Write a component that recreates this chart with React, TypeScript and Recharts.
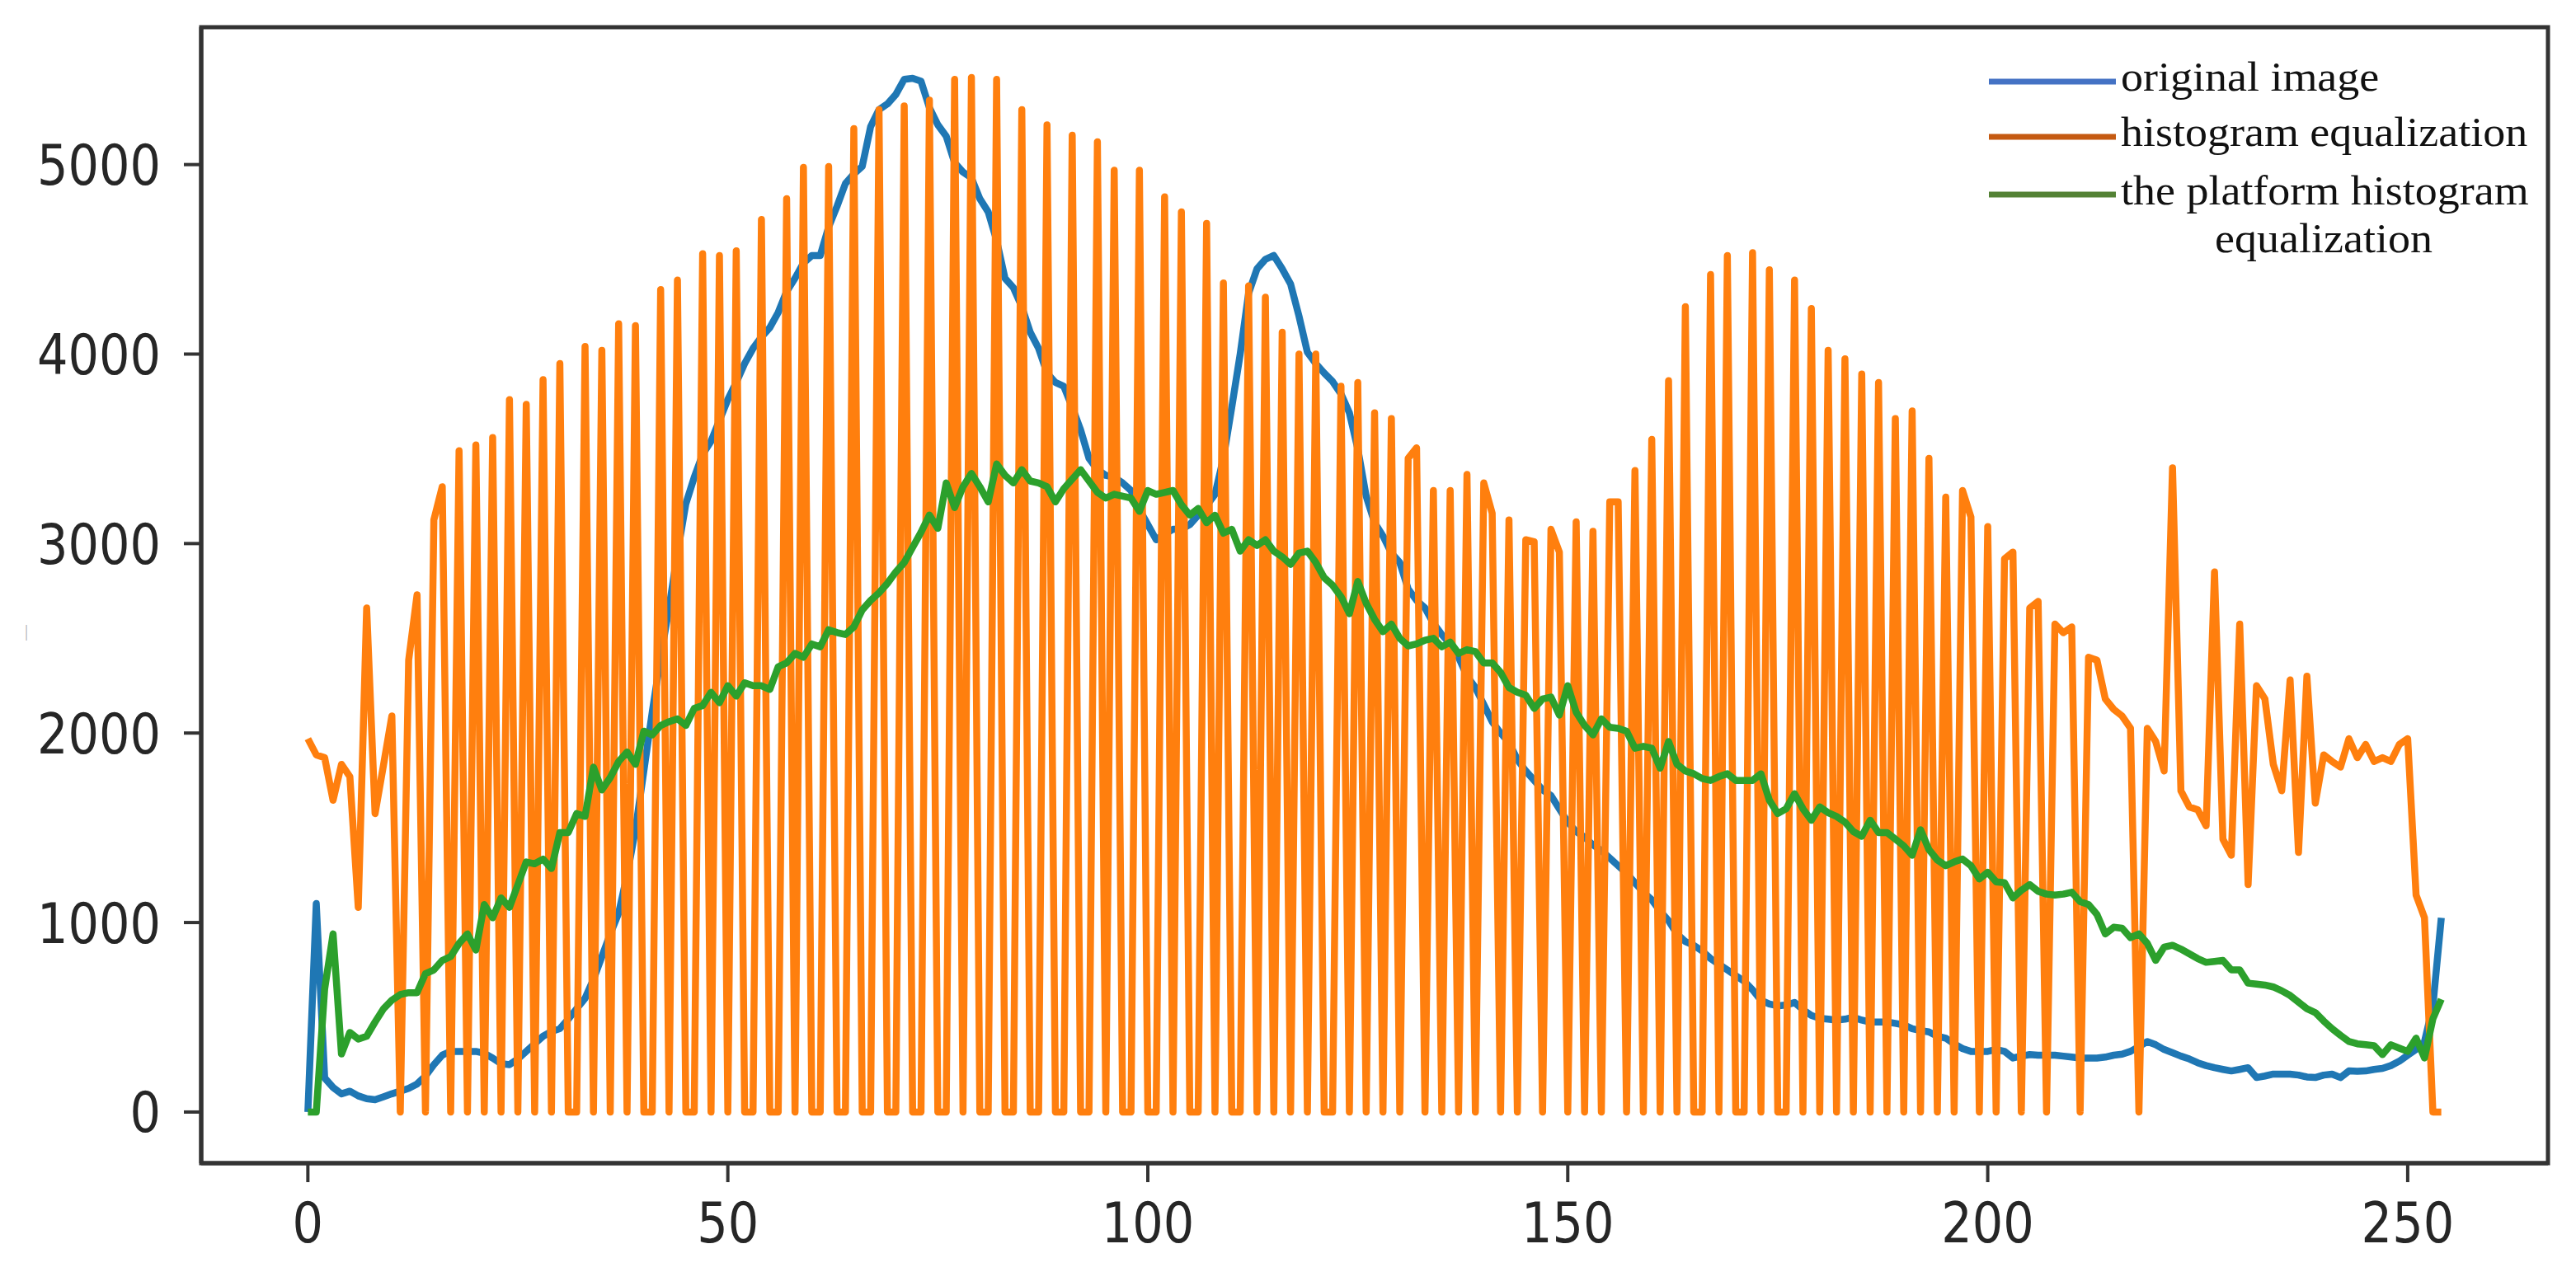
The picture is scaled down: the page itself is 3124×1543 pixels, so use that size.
import { LineChart, Line, XAxis, YAxis, ReferenceArea } from "recharts";

// grey levels 0..254
const levels = Array.from({ length: 255 }, (_, i) => i);

const originalImage = [
  0, 1100, 180, 130, 96, 110, 85, 70, 65, 80,
  96, 110, 125, 148, 190, 250, 300, 320, 320, 320,
  320, 310, 285, 255, 250, 280, 320, 360, 400, 425,
  440, 490, 545, 600, 700, 820, 940, 1050, 1250, 1490,
  1800, 2110, 2400, 2660, 2950, 3210, 3350, 3470, 3540, 3650,
  3760, 3850, 3950, 4030, 4090, 4140, 4220, 4330, 4400, 4480,
  4520, 4520, 4670, 4780, 4900, 4950, 4990, 5200, 5290, 5320,
  5370, 5450, 5455, 5440, 5300, 5210, 5150, 5010, 4960, 4930,
  4820, 4750, 4600, 4400, 4350, 4250, 4115, 4030, 3900, 3850,
  3830, 3720, 3600, 3450, 3390, 3360, 3350, 3320, 3280, 3180,
  3100, 3020, 3050, 3075, 3075, 3100, 3150, 3200, 3260, 3450,
  3720, 4000, 4320, 4450, 4500, 4520, 4450, 4370, 4200, 4010,
  3950, 3900, 3855, 3790, 3690, 3500, 3250, 3110, 3040, 2950,
  2900, 2760, 2700, 2660, 2580, 2520, 2470, 2400, 2300, 2240,
  2150, 2060, 2000, 1950, 1860, 1800, 1750, 1700, 1670, 1600,
  1530, 1480, 1450, 1410, 1380, 1340, 1300, 1260, 1210, 1160,
  1120, 1060, 1010, 940, 900, 880, 850, 810, 780, 750,
  720, 690, 645, 590, 570, 560, 565, 578, 540, 510,
  495, 490, 485, 490, 500, 485, 475, 475, 475, 468,
  460, 440, 430, 423, 400, 390, 360, 335, 320, 320,
  320, 330, 320, 285, 295, 303, 300, 300, 300, 295,
  290, 285, 285, 285, 290, 300, 305, 320, 345, 372,
  355, 330, 313, 295, 280, 260, 245, 234, 225, 217,
  225, 234, 182, 190, 200, 200, 200, 195, 185, 182,
  195, 200, 182, 217, 215, 217, 225, 230, 245, 268,
  300, 330, 372, 560, 1025,
];

const histogramEq = [
  1970, 1885, 1870, 1645, 1835, 1770, 1080, 2660, 1575, 1830,
  2090, 0, 2385, 2730, 0, 3125, 3300, 0, 3490, 0,
  3520, 0, 3560, 0, 3760, 0, 3735, 0, 3865, 0,
  3950, 0, 0, 4040, 0, 4020, 0, 4160, 0, 4150,
  0, 0, 4340, 0, 4390, 0, 0, 4530, 0, 4520,
  0, 4545, 0, 0, 4710, 0, 0, 4820, 0, 4985,
  0, 0, 4990, 0, 0, 5190, 0, 0, 5290, 0,
  0, 5310, 0, 0, 5340, 0, 0, 5450, 0, 5460,
  0, 0, 5450, 0, 0, 5290, 0, 0, 5210, 0,
  0, 5155, 0, 0, 5120, 0, 4970, 0, 0, 4970,
  0, 0, 4830, 0, 4750, 0, 0, 4690, 0, 4375,
  0, 0, 4360, 0, 4300, 0, 4115, 0, 4000, 0,
  4000, 0, 0, 3830, 0, 3850, 0, 3690, 0, 3660,
  0, 3450, 3505, 0, 3280, 0, 3280, 0, 3365, 0,
  3320, 3160, 0, 3125, 0, 3020, 3010, 0, 3075, 2955,
  0, 3115, 0, 3065, 0, 3220, 3220, 0, 3385, 0,
  3550, 0, 3860, 0, 4250, 0, 0, 4420, 0, 4520,
  0, 0, 4535, 0, 4445, 0, 0, 4390, 0, 4240,
  0, 4020, 0, 3975, 0, 3895, 0, 3850, 0, 3660,
  0, 3700, 0, 3450, 0, 3245, 0, 3280, 3140, 0,
  3090, 0, 2920, 2955, 0, 2660, 2695, 0, 2575, 2530,
  2560, 0, 2400, 2385, 2180, 2125, 2090, 2025, 0, 2025,
  1955, 1800, 3400, 1695, 1610, 1595, 1510, 2850, 1440, 1355,
  2575, 1200, 2250, 2180, 1835, 1695, 2280, 1370, 2300, 1630,
  1885, 1850, 1820, 1970, 1870, 1940, 1850, 1870, 1850, 1940,
  1970, 1145, 1025, 0, 0,
];

const platformEq = [
  0, 0, 650, 940, 306, 420, 385, 400, 475, 545,
  590, 620, 630, 630, 730, 750, 800, 820, 890, 940,
  855, 1095, 1025, 1130, 1080, 1200, 1320, 1310, 1335, 1285,
  1475, 1475, 1575, 1560, 1820, 1700, 1765, 1850, 1900, 1835,
  2010, 1990, 2040, 2060, 2075, 2040, 2130, 2145, 2215, 2160,
  2250, 2195, 2265, 2250, 2250, 2230, 2350, 2370, 2420, 2400,
  2470, 2455, 2545, 2530, 2520, 2560, 2650, 2700, 2740, 2790,
  2850, 2900, 2980, 3060, 3150, 3080, 3320, 3190, 3300, 3370,
  3300, 3220, 3420, 3360, 3320, 3390, 3330, 3320, 3300, 3220,
  3290, 3340, 3390, 3330, 3270, 3240, 3260, 3250, 3240, 3170,
  3280, 3260, 3270, 3280, 3205, 3150, 3185, 3110, 3150, 3055,
  3075, 2960, 3020, 2990, 3020, 2960, 2930, 2890, 2950, 2960,
  2900, 2820, 2780, 2720, 2630, 2800, 2685, 2600, 2535, 2575,
  2500, 2460, 2470, 2490, 2500, 2455, 2480, 2420, 2440, 2430,
  2370, 2370, 2320, 2240, 2215, 2200, 2130, 2180, 2190, 2095,
  2250, 2110, 2040, 1990, 2075, 2030, 2025, 2010, 1920, 1930,
  1920, 1815, 1955, 1835, 1800, 1785, 1760, 1750, 1770, 1785,
  1750, 1750, 1750, 1785, 1645, 1575, 1600, 1680, 1600, 1540,
  1610, 1580, 1560, 1530, 1480, 1455, 1540, 1475, 1475, 1440,
  1405, 1355, 1490, 1385, 1330, 1300, 1320, 1335, 1300, 1230,
  1265, 1215, 1210, 1130, 1170, 1200, 1165, 1150, 1145, 1150,
  1160, 1110, 1095, 1043, 940, 975, 970, 920, 940, 890,
  800, 870, 880, 860, 835, 810, 790, 795, 800, 750,
  750, 680, 675, 670, 660, 640, 615, 580, 545, 525,
  480, 440, 405, 372, 360, 355, 350, 303, 355, 337,
  320, 390, 285, 492, 595,
];

const xTicks = [0, 50, 100, 150, 200, 250];
const yTicks = [0, 1000, 2000, 3000, 4000, 5000];
const xDomain = [-12.7, 266.7];
const yDomain = [-270, 5725];

const legendNames = ["original image", "histogram equalization", "the platform histogram"];
const legendColors = ["#4472c4", "#c55a11", "#548235"];

const data = levels.map((x, i) => ({
  x,
  original: originalImage[i],
  he: histogramEq[i],
  platform: platformEq[i],
}));

const axisColor = "#333";
const tickFont = "DejaVu Sans, sans-serif";
const serif = "Liberation Serif, serif";

const YTick = ({ x, y, payload }: any) => (
  <g transform={`translate(${x},${y}) scale(1,1.15)`}>
    <text x={0} y={0} dy="0.36em" textAnchor="end" fill="#262626" fontSize={59} fontFamily={tickFont}>
      {payload.value}
    </text>
  </g>
);

const XTick = ({ x, y, payload }: any) => (
  <g transform={`translate(${x},${y}) scale(1,1.15)`}>
    <text x={0} y={0} dy="0.73em" textAnchor="middle" fill="#262626" fontSize={59} fontFamily={tickFont}>
      {payload.value}
    </text>
  </g>
);

function LegendBox() {
  const lineY = [99, 166, 236];
  const baseY = [110, 177, 248];
  return (
    <svg width={3124} height={1543} style={{ position: "absolute", left: 0, top: 0, pointerEvents: "none" }}>
      {legendNames.map((name, i) => (
        <g key={name}>
          <line x1={2412} x2={2566} y1={lineY[i]} y2={lineY[i]} stroke={legendColors[i]} strokeWidth={7} />
          <g transform={`translate(2572,${baseY[i]}) scale(1.08,1)`}>
            <text x={0} y={0} fontSize={50} fontFamily={serif} fill="#111">
              {name}
            </text>
          </g>
        </g>
      ))}
      <g transform="translate(2818,306) scale(1.08,1)">
        <text x={0} y={0} textAnchor="middle" fontSize={50} fontFamily={serif} fill="#111">
          equalization
        </text>
      </g>
    </svg>
  );
}

export default function App() {
  return (
    <div style={{ position: "absolute", left: 0, top: 0, width: 3124, height: 1543, background: "#fff" }}>
      <LineChart width={3124} height={1543} data={data} margin={{ top: 33, right: 34, bottom: 0, left: 0 }}>
        <XAxis
          dataKey="x"
          type="number"
          domain={xDomain}
          ticks={xTicks}
          allowDataOverflow
          height={132}
          tickSize={23}
          tickMargin={23}
          tick={<XTick />}
          axisLine={{ stroke: axisColor, strokeWidth: 5 }}
          tickLine={{ stroke: axisColor, strokeWidth: 4 }}
        />
        <YAxis
          type="number"
          domain={yDomain}
          ticks={yTicks}
          allowDataOverflow
          width={244}
          tickSize={21}
          tickMargin={28}
          tick={<YTick />}
          axisLine={{ stroke: axisColor, strokeWidth: 5 }}
          tickLine={{ stroke: axisColor, strokeWidth: 4 }}
          label={{ value: "|", position: "insideLeft", offset: 30, dy: 43, fontSize: 20, fill: "#aaa" }}
        />
        <Line type="linear" dataKey="original" stroke="#1f77b4" strokeWidth={8.5} strokeLinejoin="round" dot={false} isAnimationActive={false} />
        <Line type="linear" dataKey="he" stroke="#ff7f0e" strokeWidth={8.5} strokeLinejoin="round" dot={false} isAnimationActive={false} />
        <Line type="linear" dataKey="platform" stroke="#2ca02c" strokeWidth={8.5} strokeLinejoin="round" dot={false} isAnimationActive={false} />
        {/* plot frame (matplotlib-style spines) */}
        <ReferenceArea
          x1={xDomain[0]}
          x2={xDomain[1]}
          y1={yDomain[0]}
          y2={yDomain[1]}
          ifOverflow="visible"
          fill="none"
          stroke={axisColor}
          strokeWidth={5}
        />
      </LineChart>
      <LegendBox />
    </div>
  );
}
